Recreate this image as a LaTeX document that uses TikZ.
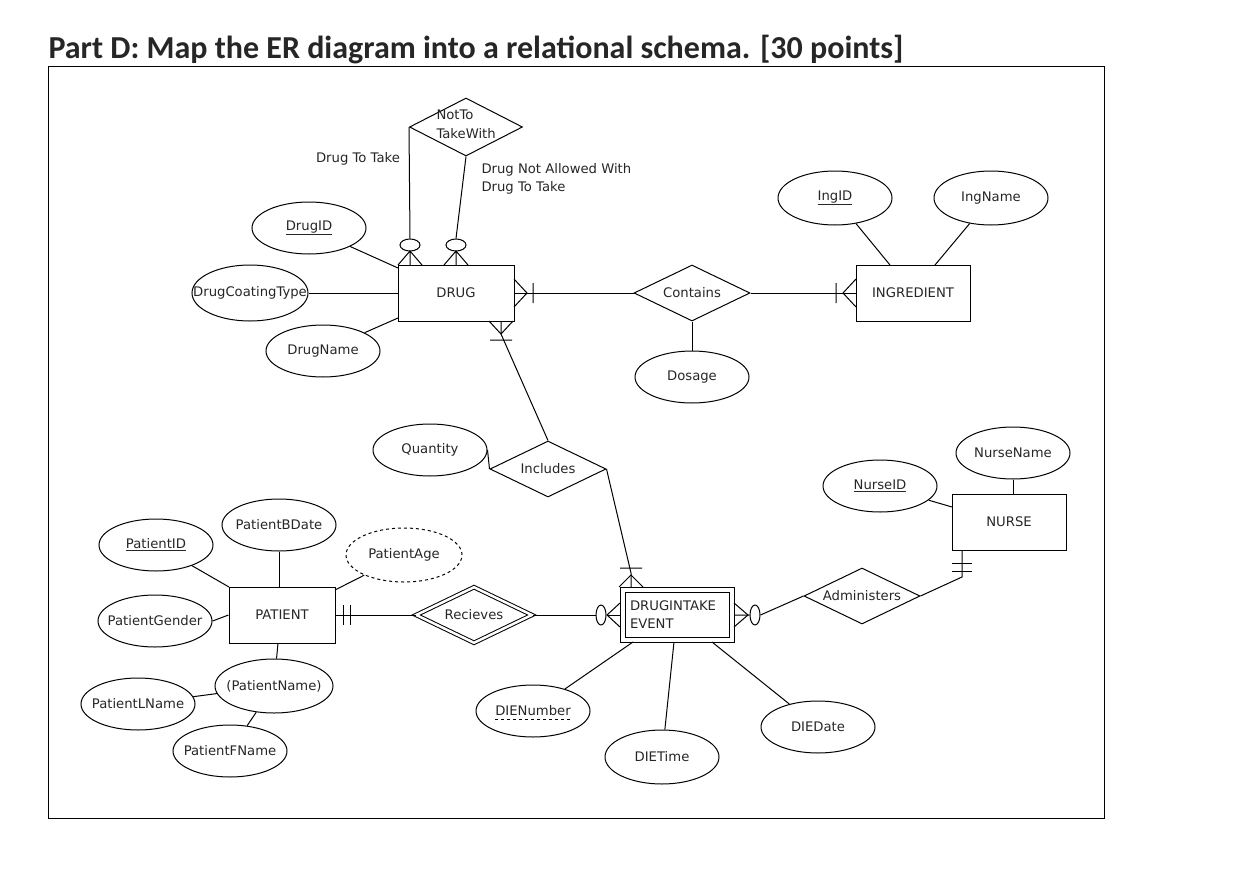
\documentclass[tikz,border=0pt]{standalone}
\usepackage{fontspec}
\setmainfont{DejaVu Sans}
\newfontfamily\titlefont{Carlito}
\usetikzlibrary{shapes.geometric,calc}
\newcommand{\zb}[1]{\makebox[0pt][c]{#1}}
\begin{document}
\begin{tikzpicture}[x=1pt,y=-1pt,line width=1pt,
  every node/.style={font=\fontsize{13.2}{16}\selectfont,text=black!85},
  ent/.style={draw,rectangle,inner sep=0pt},
  att/.style={draw,ellipse,minimum width=114pt,minimum height=52pt,inner sep=0pt},
  rel/.style={draw,diamond,aspect=2,minimum width=116pt,minimum height=56pt,inner sep=0pt},
  opt/.style={draw,ellipse,inner sep=0pt}]
\useasboundingbox (0,0) rectangle (1240,894);
\node[anchor=base west,inner sep=0pt,font=\titlefont\bfseries\fontsize{32}{36}\selectfont] (title) at (48,58) {Part D: Map the ER diagram into a relational schema. [30 points]};
\node[draw,line width=1.3pt,minimum width=1056pt,minimum height=752pt,anchor=north west,inner sep=0pt] (frame) at (48,66) {};
% entities
\node[ent,minimum width=116pt,minimum height=56pt] (drug) at (456,293) {DRUG};
\node[ent,minimum width=114pt,minimum height=56pt] (ing) at (913,293) {INGREDIENT};
\node[ent,minimum width=114pt,minimum height=56pt] (nurse) at (1009,522) {NURSE};
\node[ent,minimum width=106pt,minimum height=56pt] (patient) at (282,615) {PATIENT};
\node[ent,minimum width=114pt,minimum height=55pt] (die) at (677,615) {};
\node[ent,minimum width=104pt,minimum height=45pt,align=left,text width=94pt] (dieIn) at (677,615) {DRUGINTAKE\\[2pt]EVENT};
% relationships
\node[rel,minimum width=113pt,minimum height=58pt] (ntw) at (466,127) {};
\node[anchor=north west,inner sep=0pt] (ntwl) at (436,109) {NotTo};
\node[anchor=north west,inner sep=0pt] (ntwl2) at (436,128) {TakeWith};
\node[rel] (contains) at (692,293) {Contains};
\node[rel] (includes) at (548,469) {Includes};
\node[rel] (adm) at (862,596) {Administers};
\node[rel,double,double distance=2.5pt] (rec) at (474,615) {Recieves};
% attributes
\node[att] (drugid) at (309,228) {\zb{\underline{DrugID}}};
\node[att,minimum width=116pt,minimum height=56pt] (dct) at (250,293) {\zb{DrugCoatingType}};
\node[att] (drugname) at (323,351) {\zb{DrugName}};
\node[att,minimum height=54pt] (ingid) at (835,198) {\zb{\underline{IngID}}};
\node[att,minimum height=54pt] (ingname) at (991,198) {\zb{IngName}};
\node[att] (dosage) at (692,377) {\zb{Dosage}};
\node[att] (quantity) at (430,450) {\zb{Quantity}};
\node[att] (nursename) at (1013,453) {\zb{NurseName}};
\node[att] (nurseid) at (880,486) {\zb{\underline{NurseID}}};
\node[att] (pbdate) at (279,525) {\zb{PatientBDate}};
\node[att] (pid) at (156,545) {\zb{\underline{PatientID}}};
\node[att,dashed,minimum width=116pt,minimum height=54pt] (page) at (404,555) {\zb{PatientAge}};
\node[att] (pgender) at (155,621) {\zb{PatientGender}};
\node[att,minimum width=118pt,minimum height=54pt] (pname) at (274,686) {\zb{(PatientName)}};
\node[att] (plname) at (138,704) {\zb{PatientLName}};
\node[att] (pfname) at (230,751) {\zb{PatientFName}};
\node[att] (dienum) at (533,711) {\zb{DIENumber}};
\draw[dashed,line width=0.7pt] ($(dienum.center)+(-38,8)$) -- ($(dienum.center)+(38,8)$);
\node[att,minimum height=54pt] (dietime) at (662,757) {\zb{DIETime}};
\node[att] (diedate) at (818,727) {\zb{DIEDate}};
% labels
\node (l1) at (358,159) {Drug To Take};
\node[anchor=north west,inner sep=0pt,align=left] (l2) at (481,163) {Drug Not Allowed With\\[2pt]Drug To Take};
% NotToTakeWith links
\node[opt,minimum width=20pt,minimum height=12pt] (o1) at (410,245) {};
\node[opt,minimum width=20pt,minimum height=12pt] (o2) at (456,245) {};
\coordinate (d1) at (410,265);
\coordinate (d2) at (456,265);
\draw (ntw.west) -- (o1.north);
\draw (ntw.south) -- (o2.north);
\draw (o1.south) -- (d1) (398,265) -- (410,251) -- (422,265);
\draw (o2.south) -- (d2) (444,265) -- (456,251) -- (468,265);
% Drug - Contains - Ingredient
\draw (drug.east) -- (contains.west);
\draw (514,279) -- (527,293) -- (514,307) (533,283) -- (533,303);
\draw (contains.east) -- (ing.west);
\draw (856,279) -- (843,293) -- (856,307) (836,283) -- (836,303);
\draw (contains.south) -- (dosage.north);
\draw (ingid) -- (890,265);
\draw (ingname) -- (935,265);
\draw (drugid) -- (398,268);
\draw (dct.east) -- (drug.west);
\draw (drugname) -- (398,318);
% Drug - Includes - DIE
\coordinate (db) at (501,321);
\draw (db) -- (501,334) -- (includes.north);
\draw (489,321) -- (501,334) -- (513,321) (490,340) -- (512,340);
\draw (quantity.east) -- (includes.west);
\coordinate (dt) at (631,587);
\draw (includes.east) -- (631,573) -- (dt);
\draw (619,587) -- (631,575) -- (643,587) (620,568) -- (642,568);
% Patient - Recieves - DIE
\draw (patient.east) -- (rec.west);
\draw (343,605) -- (343,625) (350,605) -- (350,625);
\node[opt,minimum width=10pt,minimum height=20pt] (o3) at (601,615) {};
\draw (rec.east) -- (o3.west) (o3.east) -- (die.west);
\draw (620,603) -- (607,615) -- (620,627);
% DIE - Administers - Nurse
\node[opt,minimum width=10pt,minimum height=20pt] (o4) at (755,615) {};
\draw (die.east) -- (o4.west) (o4.east) -- (adm.west);
\draw (734,603) -- (748,615) -- (734,627);
\coordinate (nb) at (962,550);
\draw (adm.east) -- (962,577) -- (nb);
\draw (952,563) -- (972,563) (952,571) -- (972,571);
\draw (nursename) -- (nurse.north -| nursename);
\draw (nurseid) -- (952,507);
% Patient attributes
\draw (pbdate) -- (279,587);
\draw (pid) -- (229,587);
\draw (page) -- (335,590);
\draw (pgender.east) -- (patient.west);
\draw (278,643) -- (pname);
\draw (pname) -- (plname);
\draw (pname) -- (pfname);
% DIE attributes
\draw (633,642) -- (dienum);
\draw (674,642) -- (dietime);
\draw (712,642) -- (diedate);
\end{tikzpicture}
\end{document}
